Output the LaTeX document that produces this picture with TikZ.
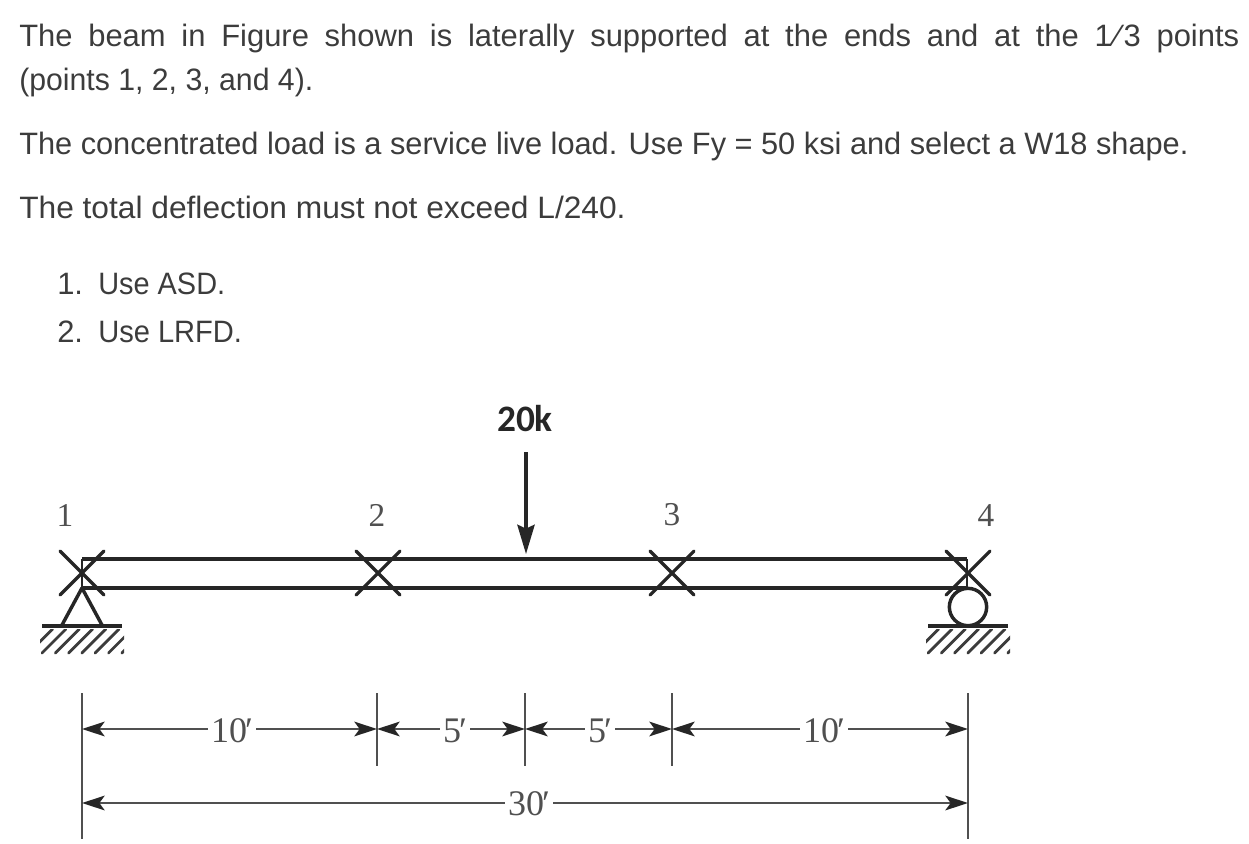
\documentclass[tikz,border=0pt]{standalone}
\usepackage{graphicx}
\usepackage{fontspec}
\setmainfont{Liberation Sans}
\newfontfamily\figserif{Liberation Serif}
\newfontfamily\loadfont{Carlito}
\usetikzlibrary{arrows.meta}
\definecolor{txt}{HTML}{3C3C3C}
\definecolor{ink}{HTML}{262626}
\definecolor{dim}{HTML}{505050}
\tikzset{
  para/.style={anchor=base west,inner sep=0pt,text=txt,font=\fontsize{23.2pt}{28pt}\selectfont},
  beamline/.style={draw=ink,line width=3pt},
  beamend/.style={draw=ink,line width=1.6pt},
  crossline/.style={draw=ink,line width=2.4pt,line cap=round},
  support/.style={draw=ink,line width=2.6pt},
  ground/.style={draw=ink,line width=2.6pt},
  hatchline/.style={draw=ink!90,line width=2.1pt,line cap=round},
  numlabel/.style={inner sep=0pt,text=dim,font=\figserif\fontsize{25pt}{28pt}\selectfont},
  dimlabel/.style={inner ysep=1pt,inner xsep=2.5pt,text=dim,fill=white,font=\figserif\fontsize{27pt}{30pt}\selectfont},
  ext/.style={draw=dim,line width=1.8pt},
  dimline/.style={draw=dim,line width=1.8pt,{Stealth[length=17pt,width=11pt,inset=4pt,color=ink]}-{Stealth[length=17pt,width=11pt,inset=4pt,color=ink]}},
  load/.style={draw=ink,line width=2.4pt,-{Stealth[length=22pt,width=13pt,inset=3pt]}},
}
\begin{document}
\begin{tikzpicture}[x=0.75pt,y=-0.75pt]
\useasboundingbox (0,0) rectangle (1249,843);
% text
\node[para] (t1) at (19,46) {\hbox to 915pt{The\hfill beam\hfill in\hfill Figure\hfill shown\hfill is\hfill laterally\hfill supported\hfill at\hfill the\hfill ends\hfill and\hfill at\hfill the\hfill 1\kern2.5pt⁄\kern2.5pt3\hfill points}};
\node[para] (t2) at (19,90) {\scalebox{0.977}[1]{(points 1, 2, 3, and 4).}};
\node[para] (t3) at (19,154) {\scalebox{0.994}[1]{The concentrated load is a service live load. Use Fy = 50 ksi and select a W18 shape.}};
\node[para] (t4) at (19,218) {\scalebox{1.025}[1]{The total deflection must not exceed L/240.}};
\node[para] (n1) at (57,294) {1.};
\node[para] (l1) at (98,294) {\scalebox{0.935}[1]{Use ASD.}};
\node[para] (n2) at (57,342) {2.};
\node[para] (l2) at (98,342) {\scalebox{0.94}[1]{Use LRFD.}};
% coordinates
\coordinate (tl) at (82,559); \coordinate (tr) at (967,559);
\coordinate (bl) at (82,588); \coordinate (br) at (967,588);
% beam
\draw[beamline] (tl) -- (tr);
\draw[beamline] (bl) -- (br);
\draw[beamend] (tl) -- (bl);
\draw[beamend] (tr) -- (br);
% crosses
\foreach \n/\x in {a/82,b/378,c/672,d/968}{
  \coordinate (\n1) at (\x-22,551); \coordinate (\n2) at (\x+22,595);
  \coordinate (\n3) at (\x-22,595); \coordinate (\n4) at (\x+22,551);
  \draw[crossline] (\n1) -- (\n2);
  \draw[crossline] (\n3) -- (\n4);
}
% pin support
\coordinate (pa) at (82,588); \coordinate (pl) at (62,625); \coordinate (pr) at (102,625);
\draw[support,line join=round] (pl) -- (pa) -- (pr);
\coordinate (g1a) at (42,626); \coordinate (g1b) at (122,626);
\draw[ground] (g1a) -- (g1b);
% roller support
\node[circle,draw=ink,line width=2.6pt,minimum size=28pt,inner sep=0pt] (roll) at (968,607) {};
\coordinate (g2a) at (928,626); \coordinate (g2b) at (1008,626);
\draw[ground] (g2a) -- (g2b);
% hatching
\foreach \gx in {42,928}{
  \begin{scope}
    \clip (\gx-2,629) rectangle (\gx+82,655);
    \foreach \k in {-1,...,6}{
      \draw[hatchline] (\gx+13.3*\k,653) -- (\gx+13.3*\k+24,629);
    }
  \end{scope}
}
% load
\node[inner sep=0pt,text=ink,font=\loadfont\fontsize{28pt}{30pt}\selectfont\bfseries] (lab) at (525,419) {20k};
\coordinate (ls) at (526,452); \coordinate (le) at (526,554);
\draw[load] (ls) -- (le);
% point labels
\node[numlabel] (p1) at (65,515) {1};
\node[numlabel] (p2) at (377,515) {2};
\node[numlabel] (p3) at (672,515) {3};
\node[numlabel] (p4) at (986,516) {4};
% extension lines
\foreach \n/\x/\yb in {A/82/839,B/377/766,C/525/766,D/672/766,E/968/839}{
  \coordinate (\n t) at (\x,693); \coordinate (\n b) at (\x,\yb);
  \draw[ext] (\n t) -- (\n b);
  \coordinate (\n m) at (\x,729); \coordinate (\n l) at (\x,803);
}
\draw[dimline] (Am) -- (Bm);
\draw[dimline] (Bm) -- (Cm);
\draw[dimline] (Cm) -- (Dm);
\draw[dimline] (Dm) -- (Em);
\draw[dimline] (Al) -- (El);
\node[dimlabel] (d1) at (232,731) {10\kern-1.5pt′};
\node[dimlabel] (d2) at (455,731) {5\kern-1.5pt′};
\node[dimlabel] (d3) at (600,731) {5\kern-1.5pt′};
\node[dimlabel] (d4) at (824,731) {10\kern-1.5pt′};
\node[dimlabel] (d5) at (529,804) {30\kern-1.5pt′};
\end{tikzpicture}
\end{document}
